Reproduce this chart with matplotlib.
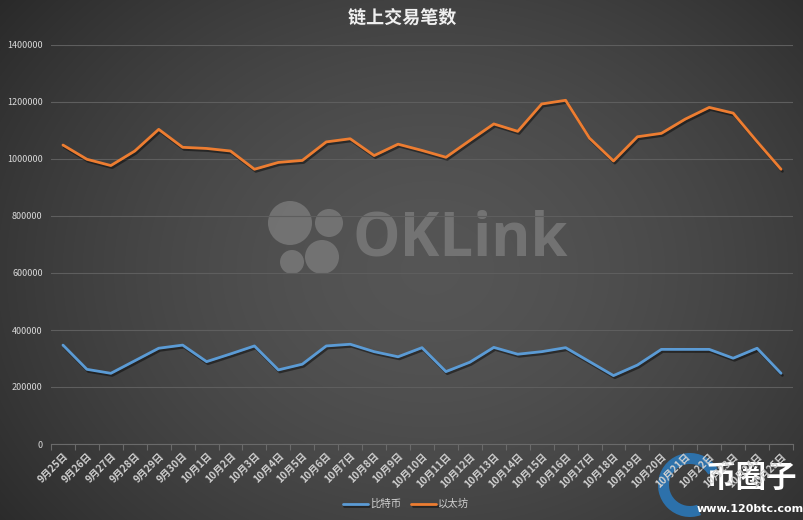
import numpy as np
import matplotlib
matplotlib.use("Agg")
import matplotlib.pyplot as plt
import matplotlib.patheffects as pe
from matplotlib.patches import Circle, Wedge

plt.rcParams['font.family'] = ['Noto Sans CJK SC', 'DejaVu Sans']

title = "链上交易笔数"
categories = (["9月%d日" % d for d in range(25, 31)] +
              ["10月%d日" % d for d in range(1, 26)])
series_names = ["比特币", "以太坊"]
btc = [347000, 262000, 248000, 292000, 336000, 347000, 289000, 316000, 344000,
       260000, 280000, 344000, 350000, 324000, 306000, 338000, 254000, 287000,
       339000, 315000, 324000, 338000, 289000, 240000, 277000, 332000, 332000,
       332000, 301000, 336000, 248000]
eth = [1049000, 999000, 977000, 1028000, 1104000, 1041000, 1037000, 1028000,
       964000, 988000, 995000, 1060000, 1071000, 1012000, 1052000, 1030000,
       1006000, 1065000, 1123000, 1097000, 1193000, 1206000, 1073000, 993000,
       1078000, 1090000, 1140000, 1181000, 1161000, 1061000, 964000]
yticks = [0, 200000, 400000, 600000, 800000, 1000000, 1200000, 1400000]

W, H = 804, 520
fig = plt.figure(figsize=(W / 100, H / 100), dpi=100)

# radial gradient background
bg = fig.add_axes([0, 0, 1, 1], zorder=-10)
yy, xx = np.mgrid[0:H, 0:W]
r = np.sqrt(((xx - 430) / 520.0) ** 2 + ((yy - 270) / 420.0) ** 2)
v = 0.335 - 0.16 * np.clip(r, 0, 1.2) ** 1.6
v = np.clip(v, 0.16, 0.36)
img = np.dstack([v, v, v])
bg.imshow(img, aspect='auto', extent=[0, W, H, 0])
bg.set_xlim(0, W)
bg.set_ylim(H, 0)
bg.axis('off')

# OKLink watermark (in pixel coords on background axes)
wm = '#7e7e7e'
for (cx, cy, rr) in [(290, 223, 22), (329, 223, 14), (292, 262, 12), (322, 257, 17)]:
    bg.add_patch(Circle((cx, cy), rr, color=wm, alpha=0.75, lw=0))
bg.text(353, 256, "OKLink", fontsize=43, fontweight='bold', color=wm, alpha=0.75,
        family=['Open Sans', 'DejaVu Sans'], va='baseline', ha='left')

ax = fig.add_axes([51 / W, 1 - 444 / H, (793 - 51) / W, (444 - 45) / H])
ax.set_facecolor('none')
x = np.arange(len(categories))
shadow = [pe.SimpleLineShadow(offset=(1, -1.5), alpha=0.45, shadow_color='black'), pe.Normal()]
ax.plot(x, btc, color='#5B9BD5', lw=2.0, label=series_names[0], path_effects=shadow,
        solid_joinstyle='round', solid_capstyle='round')
ax.plot(x, eth, color='#ED7D31', lw=2.0, label=series_names[1], path_effects=shadow,
        solid_joinstyle='round', solid_capstyle='round')

ax.set_xlim(-0.5, len(categories) - 0.5)
ax.set_ylim(0, 1400000)
ax.set_yticks(yticks)
ax.set_yticklabels([str(t) for t in yticks])
ax.tick_params(axis='y', length=0, labelsize=6.5, labelcolor='#d9d9d9', pad=6)
ax.set_xticks(x)
ax.set_xticklabels(categories, rotation=45, ha='right', rotation_mode='anchor')
ax.tick_params(axis='x', which='major', length=0, labelsize=7.3, labelcolor='#d0d0d0', pad=5)
ax.set_xticks(np.arange(-0.5, len(categories)), minor=True)
ax.tick_params(axis='x', which='minor', length=4, color='#6a6a6a', width=0.8)
for lab in ax.get_xticklabels():
    lab.set_fontweight('bold')
ax.grid(axis='y', color='#5e5e5e', lw=0.8)
ax.set_axisbelow(True)
for s in ['top', 'right', 'left']:
    ax.spines[s].set_visible(False)
ax.spines['bottom'].set_color('#6a6a6a')
ax.spines['bottom'].set_linewidth(0.8)

fig.text(0.5, 1 - 18 / H, title, ha='center', va='center', fontsize=13, fontweight='bold',
         color='#f0f0f0',
         path_effects=[pe.withSimplePatchShadow(offset=(1.2, -1.2), alpha=0.7)])

leg = fig.legend(loc='center', bbox_to_anchor=(0.505, 1 - 504 / H), ncol=2, frameon=False,
                 fontsize=7.5, handlelength=2.4, columnspacing=1.0, handletextpad=0.2)
for t in leg.get_texts():
    t.set_color('#d0d0d0')

# 币圈子 watermark
bg.add_patch(Wedge((690, 485), 32, 70, 330, width=11, color='#2a7bbf', alpha=0.85, lw=0))
bg.text(752, 478, "币圈子", fontsize=22, fontweight='bold', color='white',
        ha='center', va='center')
bg.text(750, 509, "www.120btc.com", fontsize=8, fontweight='bold', color='white',
        ha='center', va='center', family=['DejaVu Sans'])

fig.savefig("out.png", dpi=100)
